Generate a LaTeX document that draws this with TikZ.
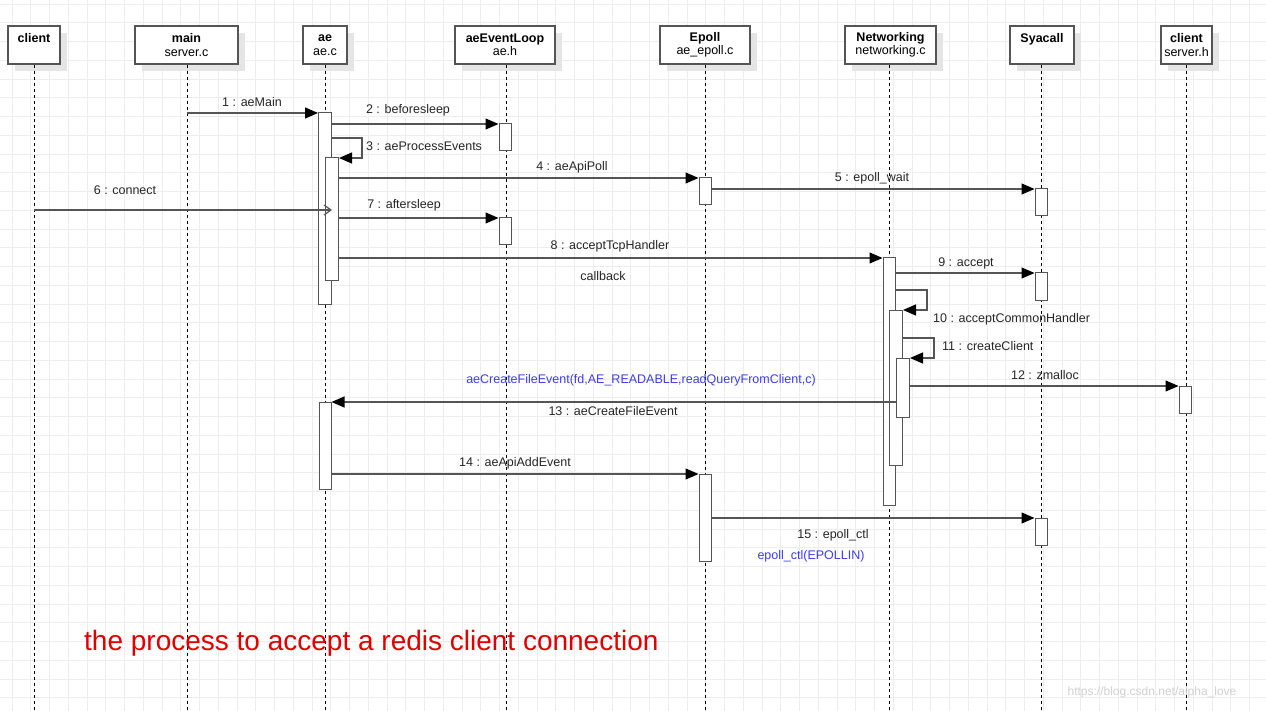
\documentclass[tikz,border=0pt]{standalone}
\usepackage{fontspec}
\setmainfont{Liberation Sans}
\usetikzlibrary{arrows.meta}
\definecolor{ln}{HTML}{555555}
\definecolor{gridc}{HTML}{EDEDED}
\definecolor{blu}{HTML}{3C3CF0}
\begin{document}
\begin{tikzpicture}[x=1pt,y=-1pt,
  font=\fontsize{12.5}{14}\selectfont,
  hdr/.style={draw=ln,line width=1.2pt,fill=white,minimum height=38,inner sep=1pt,align=center,font=\fontsize{12.5}{13.5}\selectfont},
  shd/.style={fill=black!10,draw=none,minimum height=38},
  life/.style={dash pattern=on 3pt off 3pt,line width=0.8pt},
  act/.style={draw=ln,line width=1pt,fill=white,minimum width=12,inner sep=0},
  msg/.style={draw=ln,line width=1.2pt,-{Triangle[length=13pt,width=11pt,fill=black,color=black]}},
  lbl/.style={text=black!85,inner sep=0}]
\useasboundingbox (0,0) rectangle (1266,711);
\fill[white] (0,0) rectangle (1266,711);
\foreach \i in {0,...,67} \draw[gridc,line width=0.7pt] ({\i*18.75+12},0) -- ({\i*18.75+12},711);
\foreach \i in {0,...,38} \draw[gridc,line width=0.7pt] (0,{\i*18.75+4}) -- (1266,{\i*18.75+4});
% headers
\foreach \n/\xa/\xb/\t in {hc/8/60/{\textbf{client}\\\phantom{x}},hm/135/238/{\textbf{main}\\server.c},hae/303/347/{\textbf{ae}\\ae.c},hel/455/555/{\textbf{aeEventLoop}\\ae.h},hep/660/750/{\textbf{Epoll}\\ae\_epoll.c},hnw/845/936/{\textbf{Networking}\\networking.c},hsy/1010/1074/{\textbf{Syacall}\\\phantom{x}},hc2/1161/1212/{\textbf{client}\\server.h}}{
  \node[shd,minimum width=\xb-\xa] at ({(\xa+\xb)/2+7},52) {};
  \node[hdr,minimum width=\xb-\xa] (\n) at ({(\xa+\xb)/2},45) {\t};
}
% lifelines
\foreach \n/\x in {hc/34,hm/187,hae/325,hel/506,hep/705,hnw/889,hsy/1041,hc2/1186}
  \draw[life] (\n.south -| \x,0) -- (\x,711);
% activations
\newcommand\actv[5]{\node[act,minimum width=#3,minimum height=#5-#4] (#1) at (#2,{(#4+#5)/2}) {};}
\actv{ae1}{325}{13}{113}{305}
\actv{ae2}{332}{13}{158}{281}
\actv{el1}{505}{12}{124}{151}
\actv{el2}{505}{12}{218}{245}
\actv{ep1}{705}{12}{178}{205}
\actv{sy1}{1041}{12}{189}{216}
\actv{nw1}{889}{12}{258}{505}
\actv{sy2}{1041}{12}{273}{301}
\actv{nw2}{896}{13}{310}{465}
\actv{nw3}{903}{13}{358}{417}
\actv{c21}{1185}{12}{386}{413}
\actv{ae3}{325}{12}{402}{489}
\actv{ep2}{705}{12}{474}{561}
\actv{sy3}{1041}{12}{518}{545}
\coordinate (mstart) at (187,113);
\coordinate (cstart) at (34,210);
% messages
\draw[msg] (mstart) -- (ae1.west |- 0,113);
\node[lbl] at (252,102) {1 : aeMain};
\draw[msg] (ae1.east |- 0,124) -- (el1.west |- 0,124);
\node[lbl] at (408,110) {2 : beforesleep};
\draw[msg] (ae1.east |- 0,138) -- (362,138) -- (362,158) -- (ae2.east |- 0,158);
\node[lbl,anchor=west] at (366,146) {3 : aeProcessEvents};
\draw[msg] (ae2.east |- 0,178) -- (ep1.west |- 0,178);
\node[lbl] at (572,167) {4 : aeApiPoll};
\draw[msg] (ep1.east |- 0,189) -- (sy1.west |- 0,189);
\node[lbl] at (872,178) {5 : epoll\_wait};
\draw[draw=ln,line width=1.2pt,-{Straight Barb[length=7pt,width=10pt]}] (cstart) -- (ae2.center |- 0,210);
\node[lbl] at (125,190) {6 : connect};
\draw[msg] (ae2.east |- 0,218) -- (el2.west |- 0,218);
\node[lbl] at (404,205) {7 : aftersleep};
\draw[msg] (ae2.east |- 0,258) -- (nw1.west |- 0,258);
\node[lbl] at (610,246) {8 : acceptTcpHandler};
\node[lbl] at (603,276) {callback};
\draw[msg] (nw1.east |- 0,273) -- (sy2.west |- 0,273);
\node[lbl] at (966,263) {9 : accept};
\draw[msg] (nw1.east |- 0,290) -- (927,290) -- (927,310) -- (nw2.east |- 0,310);
\node[lbl,anchor=west] at (933,319) {10 : acceptCommonHandler};
\draw[msg] (nw2.east |- 0,338) -- (934,338) -- (934,358) -- (nw3.east |- 0,358);
\node[lbl,anchor=west] at (942,346) {11 : createClient};
\draw[msg] (nw3.east |- 0,386) -- (c21.west |- 0,386);
\node[lbl] at (1045,375) {12 : zmalloc};
\draw[msg] (nw3.west |- 0,402) -- (ae3.east |- 0,402);
\node[lbl,text=blu] at (641,380) {aeCreateFileEvent(fd,AE\_READABLE,readQueryFromClient,c)};
\node[lbl] at (613,411) {13 : aeCreateFileEvent};
\draw[msg] (ae3.east |- 0,474) -- (ep2.west |- 0,474);
\node[lbl] at (515,463) {14 : aeApiAddEvent};
\draw[msg] (ep2.east |- 0,518) -- (sy3.west |- 0,518);
\node[lbl] at (833,535) {15 : epoll\_ctl};
\node[lbl,text=blu] at (811,556) {epoll\_ctl(EPOLLIN)};
\node[lbl,anchor=west,text=red!90!black,font=\fontsize{28}{32}\selectfont] at (84,643) {the process to accept a redis client connection};
\node[lbl,text=black!18,font=\fontsize{12}{14}\selectfont] at (1152,692) {https://blog.csdn.net/alpha\_love};
\end{tikzpicture}
\end{document}
